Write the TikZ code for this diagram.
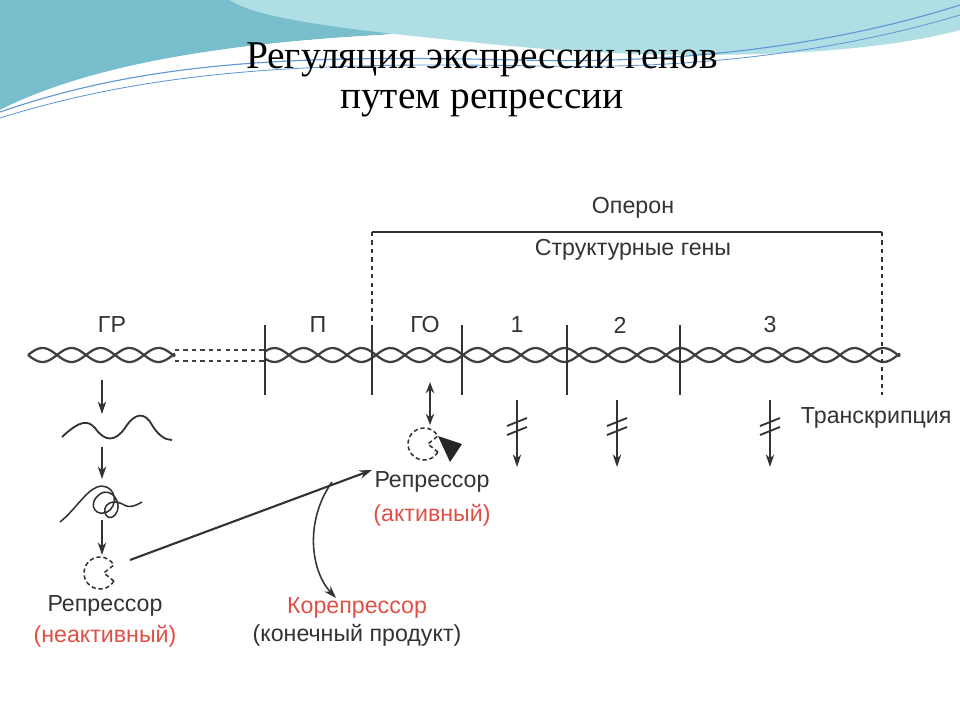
\documentclass[tikz,border=0pt]{standalone}
\usepackage{fontspec}
\setmainfont{Liberation Sans}
\newfontfamily\titlefont{Liberation Serif}
\usetikzlibrary{arrows.meta}
\definecolor{wave1}{RGB}{120,190,205}
\definecolor{wave2}{RGB}{175,222,228}
\definecolor{redtxt}{RGB}{225,80,70}
\tikzset{
  lbl/.style={font=\fontsize{16.5}{19}\selectfont, text=black!80},
  redlbl/.style={font=\fontsize{16.5}{19}\selectfont, text=redtxt},
  strand/.style={black!75, line width=1.6pt},
  bar/.style={black!80, line width=1.1pt},
  arr/.style={black!80, line width=1.1pt, -{Stealth[length=9pt,width=6pt]}},
  cutmark/.style={black!80, line width=1.3pt}
}
\newcommand{\pacman}[2]{%
  \draw[black!80, dashed, dash pattern=on 3pt off 2pt, line width=1.1pt] (#1,#2) ++(30:16) arc (30:330:16) -- ++(-10,8) -- ++(10,8) -- cycle;}
\begin{document}
\begin{tikzpicture}[x=0.25mm, y=-0.25mm]
\useasboundingbox (0,0) rectangle (960,720);
\fill[white] (0,0) rectangle (960,720);
% background waves
\fill[wave1] (0,0) -- (960,0) -- (960,20) .. controls (700,40) and (500,20) .. (380,35) .. controls (200,45) and (80,70) .. (0,110) -- cycle;
\fill[wave2] (230,0) -- (960,0) -- (960,30) .. controls (850,60) and (650,60) .. (500,45) .. controls (350,30) and (260,20) .. (230,0) -- cycle;
\fill[white] (0,110) .. controls (80,70) and (200,45) .. (380,35) .. controls (300,55) and (150,80) .. (0,125) -- cycle;
\draw[wave1!80!blue, line width=0.8pt] (0,112) .. controls (150,60) and (300,55) .. (520,60) .. controls (700,65) and (850,40) .. (960,5);
\draw[wave1!80!blue, line width=0.6pt] (0,118) .. controls (160,68) and (320,62) .. (540,66) .. controls (720,70) and (860,45) .. (960,15);
% title
\node[font=\titlefont\fontsize{28}{32}\selectfont] (title1) at (482,60) {Регуляция экспрессии генов};
\node[font=\titlefont\fontsize{28}{32}\selectfont] (title2) at (482,103) {путем репрессии};
% DNA
\foreach \a/\b in {28/175, 265/900} {
  \draw[strand] plot[domain=\a:\b, samples=200] (\x,{355+7*sin(6.207*(\x-28))});
  \draw[strand] plot[domain=\a:\b, samples=200] (\x,{355-7*sin(6.207*(\x-28))});
}
\draw[strand, dashed] (175,350) -- (265,350);
\draw[strand, dashed] (175,361) -- (265,361);
% boundaries
\foreach \x in {265, 462, 567, 680} \draw[bar] (\x,325) -- (\x,395);
\draw[bar] (372,325) -- (372,395);
\draw[bar, dashed] (372,232) -- (372,325);
\draw[bar, dashed] (882,232) -- (882,395);
\draw[bar] (372,232) -- (882,232);
% labels
\node[lbl] (operon) at (633,208) {Оперон};
\node[lbl] (struct) at (633,250) {Структурные гены};
\node[lbl] (gr) at (112,325) {ГР};
\node[lbl] (p) at (318,325) {П};
\node[lbl] (go) at (425,325) {ГО};
\node[lbl] (g1) at (517,325) {1};
\node[lbl] (g2) at (620,325) {2};
\node[lbl] (g3) at (770,325) {3};
\node[lbl, anchor=west] (transcr) at (796,418) {Транскрипция};
% blocked transcription
\foreach \x in {517, 617, 770} {
  \draw[arr] (\x,400) -- (\x,467);
  \draw[cutmark] (\x-10,426) -- (\x+10,418);
  \draw[cutmark] (\x-10,435) -- (\x+10,427);
}
% left column: gene -> mRNA -> protein -> repressor
\draw[arr] (102,380) -- (102,414);
\draw[black!80, line width=1.3pt] (62,437) .. controls (80,420) and (88,420) .. (95,428) .. controls (105,442) and (115,442) .. (125,428) .. controls (135,412) and (145,412) .. (152,425) .. controls (158,435) and (165,440) .. (172,440);
\draw[arr] (102,447) -- (102,479);
\draw[black!80, line width=1.1pt] (60,522) .. controls (75,510) and (85,492) .. (97,487) .. controls (112,482) and (120,500) .. (110,510) .. controls (98,520) and (85,505) .. (100,494) .. controls (112,486) and (124,505) .. (115,515) .. controls (105,525) and (98,502) .. (115,502) .. controls (125,502) and (125,512) .. (142,502);
\draw[arr] (102,520) -- (102,555);
\pacman{100}{573}
\node[lbl] (repinact) at (105,606) {Репрессор};
\node[redlbl] (inact) at (105,636) {(неактивный)};
% active repressor
\draw[black!80, line width=1.1pt, {Stealth[length=8pt,width=6pt]}-{Stealth[length=8pt,width=6pt]}] (430,382) -- (430,425);
\pacman{424}{444}
\fill[black!85] (438,436) -- (462,444) -- (450,462) -- cycle;
\node[lbl] (repact) at (432,482) {Репрессор};
\node[redlbl] (act) at (432,515) {(активный)};
% interactions
\coordinate (frominact) at (130,560);
\coordinate (toact) at (372,470);
\draw[arr, line width=1.5pt] (frominact) -- (toact);
\coordinate (branch) at (332,482);
\coordinate (corep) at (336,598);
\draw[arr] (branch) .. controls (305,520) and (310,570) .. (corep);
\node[redlbl] (corepl) at (357,608) {Корепрессор};
\node[lbl] (endprod) at (357,635) {(конечный продукт)};
\end{tikzpicture}
\end{document}
